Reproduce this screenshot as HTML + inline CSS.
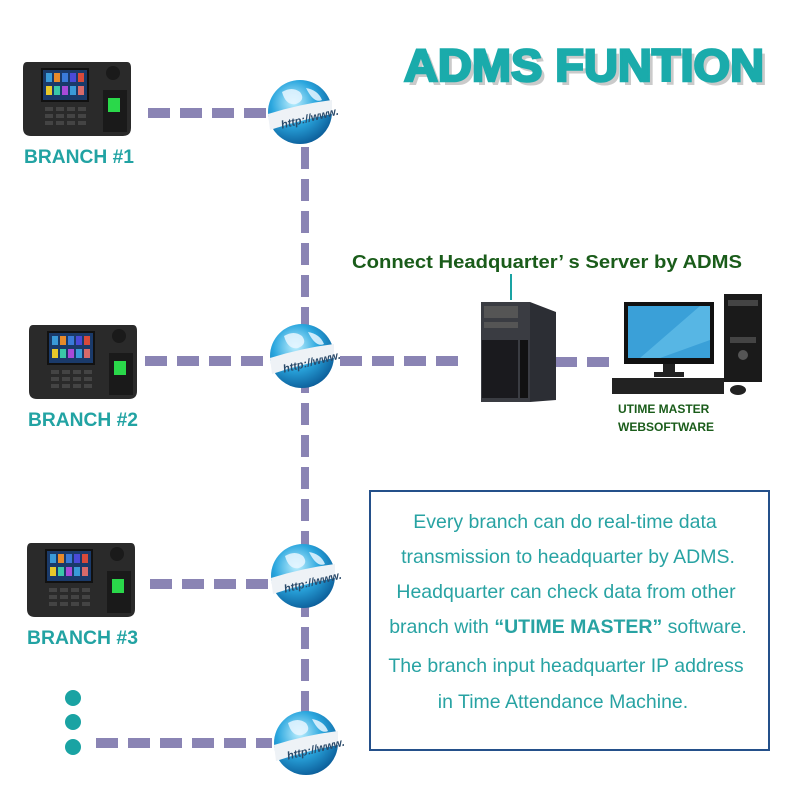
<!DOCTYPE html>
<html><head><meta charset="utf-8"><style>
html,body{margin:0;padding:0;background:#fff;width:799px;height:799px;overflow:hidden}
svg{display:block}
</style></head><body>
<svg width="799" height="799" viewBox="0 0 799 799" xmlns="http://www.w3.org/2000/svg">
<defs>
<radialGradient id="gl" cx="0.4" cy="0.35" r="0.7">
<stop offset="0" stop-color="#bff0ff"/><stop offset="0.5" stop-color="#2aa6de"/><stop offset="1" stop-color="#0a5a96"/>
</radialGradient>
<g id="dev">
<path d="M4 2 H104 Q108 2 108 8 V68 Q108 76 100 76 H8 Q0 76 0 68 V8 Q0 2 4 2Z" fill="#2a2a2a"/>
<rect x="18" y="8" width="48" height="34" fill="#111"/>
<rect x="20" y="10" width="44" height="30" fill="#1a3a6a"/>
<rect x="23" y="13" width="6" height="9" fill="#3a9ad8"/><rect x="31" y="13" width="6" height="9" fill="#e88a2a"/><rect x="39" y="13" width="6" height="9" fill="#3a7ad8"/><rect x="47" y="13" width="6" height="9" fill="#4a4ad8"/><rect x="55" y="13" width="6" height="9" fill="#d84a3a"/>
<rect x="23" y="26" width="6" height="9" fill="#e8c82a"/><rect x="31" y="26" width="6" height="9" fill="#3ac8a8"/><rect x="39" y="26" width="6" height="9" fill="#a84ad8"/><rect x="47" y="26" width="6" height="9" fill="#3a9ad8"/><rect x="55" y="26" width="6" height="9" fill="#d86a6a"/>
<rect x="80" y="30" width="24" height="42" fill="#1a1a1a"/>
<rect x="85" y="38" width="12" height="14" fill="#2ad84a"/>
<circle cx="90" cy="13" r="7" fill="#1a1a1a"/>
<g fill="#444"><rect x="22" y="47" width="8" height="4"/><rect x="33" y="47" width="8" height="4"/><rect x="44" y="47" width="8" height="4"/><rect x="55" y="47" width="8" height="4"/>
<rect x="22" y="54" width="8" height="4"/><rect x="33" y="54" width="8" height="4"/><rect x="44" y="54" width="8" height="4"/><rect x="55" y="54" width="8" height="4"/>
<rect x="22" y="61" width="8" height="4"/><rect x="33" y="61" width="8" height="4"/><rect x="44" y="61" width="8" height="4"/><rect x="55" y="61" width="8" height="4"/></g>
</g>
<g id="globe">
<circle cx="0" cy="0" r="32" fill="url(#gl)"/>
<path d="M-18 -20 q10 -6 18 0 q6 8 -4 12 q-10 2 -14 -12Z M6 -24 q12 2 16 12 q-8 4 -16 -12Z" fill="#e8f6ff" opacity="0.85"/>
<path d="M-32 2 Q0 -8 32 -12 L32 2 Q0 8 -30 18Z" fill="#eef2f6"/>
<text x="-20" y="12" font-family="Liberation Sans" font-weight="bold" font-style="italic" font-size="11" fill="#2a4a6a" transform="rotate(-14 0 6)">http://www.</text>
</g>
</defs>

<g stroke="#8a84b4" stroke-width="10" stroke-dasharray="22 10" fill="none">
<line x1="148" y1="113" x2="268" y2="113"/>
<line x1="145" y1="361" x2="270" y2="361"/>
<line x1="340" y1="361" x2="465" y2="361"/>
<line x1="555" y1="362" x2="618" y2="362"/>
<line x1="150" y1="584" x2="270" y2="584"/>
<line x1="96" y1="743" x2="272" y2="743"/>
</g>
<g stroke="#8a84b4" stroke-width="8" stroke-dasharray="22 10" fill="none">
<line x1="305" y1="147" x2="305" y2="715"/>
</g>

<use href="#dev" x="23" y="60"/>
<use href="#dev" x="29" y="323"/>
<use href="#dev" x="27" y="541"/>

<use href="#globe" x="300" y="112"/>
<use href="#globe" x="302" y="356"/>
<use href="#globe" x="303" y="576"/>
<use href="#globe" x="306" y="743"/>

<g font-family="Liberation Sans" font-weight="bold" font-size="19" fill="#22a3a3">
<text x="24" y="163" textLength="110" lengthAdjust="spacingAndGlyphs">BRANCH #1</text>
<text x="28" y="426" textLength="110" lengthAdjust="spacingAndGlyphs">BRANCH #2</text>
<text x="27" y="644" textLength="111" lengthAdjust="spacingAndGlyphs">BRANCH #3</text>
</g>
<g fill="#1aa3a3"><circle cx="73" cy="698" r="8"/><circle cx="73" cy="722" r="8"/><circle cx="73" cy="747" r="8"/></g>

<text x="404" y="81" font-family="Liberation Sans" font-weight="bold" font-size="45" fill="#a8a8a8" transform="translate(4 4)" textLength="360" lengthAdjust="spacingAndGlyphs" opacity="0.6">ADMS FUNTION</text>
<text x="404" y="81" font-family="Liberation Sans" font-weight="bold" font-size="45" fill="#1aabab" stroke="#1aabab" stroke-width="2.5" textLength="360" lengthAdjust="spacingAndGlyphs">ADMS FUNTION</text>

<text x="352" y="268" font-family="Liberation Sans" font-weight="bold" font-size="18" fill="#1a5c1a" textLength="390" lengthAdjust="spacingAndGlyphs">Connect Headquarter’ s Server by ADMS</text>
<line x1="511" y1="274" x2="511" y2="300" stroke="#1aa3a3" stroke-width="2"/>

<!-- server -->
<polygon points="481,302 530,302 556,312 556,400 530,402 481,398" fill="#2c2e34"/>
<rect x="481" y="302" width="49" height="100" fill="#3a3c42"/>
<rect x="484" y="306" width="34" height="12" fill="#555"/>
<rect x="484" y="322" width="34" height="6" fill="#555"/>
<rect x="482" y="340" width="36" height="58" fill="#1a1a1e"/>
<rect x="520" y="340" width="8" height="58" fill="#111"/>

<!-- PC -->
<rect x="624" y="302" width="90" height="62" fill="#111"/>
<rect x="628" y="306" width="82" height="52" fill="#3aa0d8"/>
<path d="M640 358 L700 306 L710 306 L710 340 L660 358Z" fill="#6ac4ec" opacity="0.6"/>
<rect x="663" y="364" width="12" height="10" fill="#222"/>
<rect x="654" y="372" width="30" height="5" fill="#222"/>
<rect x="612" y="378" width="112" height="16" fill="#222"/>
<ellipse cx="738" cy="390" rx="8" ry="5" fill="#222"/>
<rect x="724" y="294" width="38" height="88" fill="#1a1a1a"/>
<rect x="728" y="300" width="30" height="6" fill="#444"/>
<rect x="730" y="337" width="26" height="6" fill="#444"/>
<circle cx="743" cy="355" r="5" fill="#555"/>
<g font-family="Liberation Sans" font-weight="bold" font-size="12" fill="#1a5c1a">
<text x="618" y="413">UTIME MASTER</text>
<text x="618" y="431">WEBSOFTWARE</text>
</g>

<rect x="370" y="491" width="399" height="259" fill="#fff" stroke="#24508a" stroke-width="2"/>
<g font-family="Liberation Sans" font-size="19.5" fill="#28a3a3" text-anchor="middle">
<text x="565" y="528">Every branch can do real-time data</text>
<text x="568" y="563">transmission to headquarter by ADMS.</text>
<text x="566" y="598">Headquarter can check data from other</text>
<text x="568" y="633">branch with  <tspan font-weight="bold">“UTIME MASTER”</tspan> software.</text>
<text x="566" y="672">The branch input headquarter IP address</text>
<text x="563" y="708">in Time Attendance Machine.</text>
</g>
</svg>
</body></html>
